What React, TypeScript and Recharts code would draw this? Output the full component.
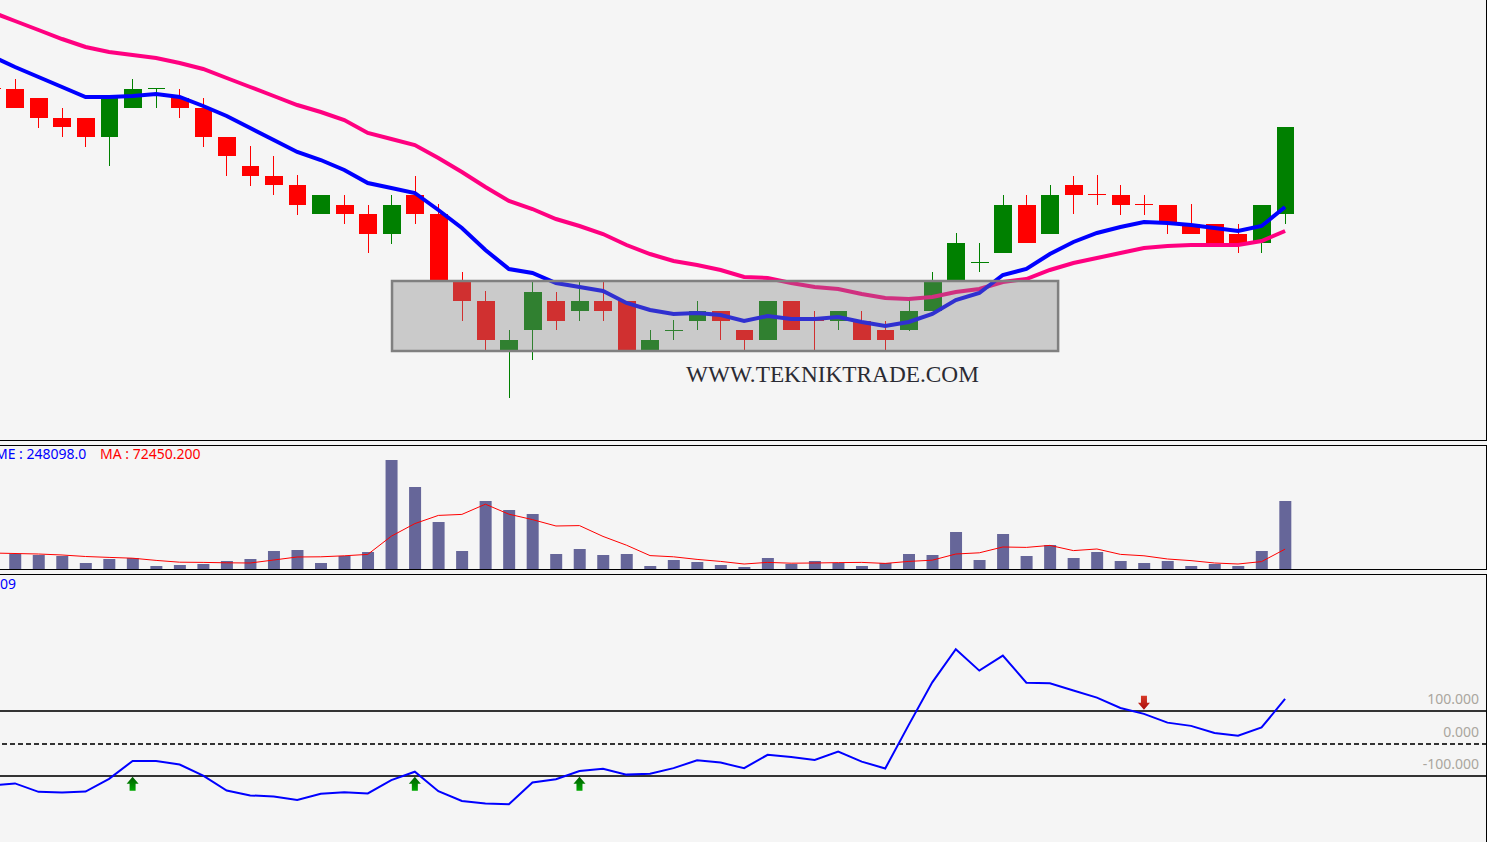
import React from "react";
import {
  ComposedChart,
  Bar,
  Line,
  XAxis,
  YAxis,
  ReferenceArea,
  ReferenceLine,
  ReferenceDot,
} from "recharts";

const W = 1487;
const BG = "#f5f5f5";
const UP = "#008000";
const DOWN = "#ff0000";
const SLOW_MA = "#ff0080";
const FAST_MA = "#0000ff";
const VOLUME = "#666699";

// one bar per session, starting with the one cut off by the left edge
const sessions = Array.from({ length: 56 }, (_, k) => k - 1);

const opens = [352, 351, 342, 322, 322, 303, 332, 352, 342, 332, 303, 274, 264, 255, 226, 235, 226, 206, 245, 226, 158, 139, 90, 110, 139, 129, 139, 139, 90, 110, 119, 129, 110, 100, 139, 120, 119, 119, 110, 110, 129, 159, 178, 187, 235, 206, 255, 246, 245, 236, 235, 216, 216, 206, 197, 226];
const highs = [360, 361, 342, 332, 322, 342, 361, 352, 351, 342, 303, 294, 284, 265, 245, 245, 235, 245, 264, 236, 168, 149, 110, 158, 148, 158, 158, 139, 110, 120, 139, 129, 110, 139, 139, 129, 129, 129, 119, 140, 168, 207, 197, 245, 245, 255, 264, 265, 255, 245, 235, 236, 216, 216, 235, 313];
const lows = [345, 332, 312, 303, 293, 274, 332, 332, 322, 293, 264, 254, 245, 225, 226, 216, 187, 196, 216, 159, 119, 90, 42, 80, 110, 119, 119, 90, 90, 100, 110, 100, 90, 100, 110, 90, 110, 100, 90, 109, 129, 159, 168, 187, 197, 206, 226, 235, 225, 225, 206, 206, 195, 187, 187, 216];
const closes = [351.8, 332, 322, 313, 303, 342, 351, 352.2, 332, 303, 284, 264, 255, 235, 245, 226, 206, 235, 226, 159, 139, 100, 100, 148, 119, 139, 129, 90, 100, 110.2, 129, 119, 100, 139, 110, 119.8, 129, 100, 100, 129, 158, 197, 178.2, 235, 197, 245, 245, 245.8, 235, 235.8, 216, 206, 197, 196, 235, 313];

const slowMa = [428, 419, 410, 401, 393, 388, 385, 382, 377, 371, 362, 353, 344, 335, 328, 320, 307, 301, 295, 282, 268, 253, 239, 231, 221, 214, 206, 195, 186, 179, 175, 170, 163, 162, 157, 153, 151, 146, 142, 141, 143, 148, 151, 158, 161, 170, 177, 182, 187, 192, 194, 195, 195, 195, 199, 209];
const fastMa = [384, 373, 363, 353, 343, 343, 344, 346, 343, 334, 324, 312, 300, 288, 280, 270, 257, 252, 247, 230, 212, 190, 171, 167, 157, 153, 149, 137, 130, 126, 127, 125, 119, 124, 121, 121, 123, 118, 114, 118, 126, 140, 147, 165, 171, 186, 198, 207, 213, 218, 217, 215, 212, 209, 214, 233];

const volumes = [58400, 54700, 51100, 47400, 21900, 36500, 40100, 10900, 14600, 18200, 29200, 36500, 65700, 69300, 21900, 47400, 62000, 397600, 299100, 171500, 65700, 248100, 215200, 200600, 54700, 73000, 51100, 54700, 10900, 32800, 25500, 14600, 7300, 40100, 18200, 29200, 21900, 10900, 21900, 54700, 51100, 135000, 32800, 127700, 47400, 87600, 40100, 62000, 29200, 21900, 29200, 10900, 18200, 10900, 65700, 248098];
const volumeMa = [58400, 56500, 54700, 51100, 45600, 42300, 39400, 31400, 24800, 24100, 22600, 21900, 32800, 43800, 44500, 48200, 53300, 119700, 165600, 195500, 199200, 236400, 199900, 180200, 156900, 158300, 118900, 86800, 48900, 44500, 35000, 27700, 18200, 24100, 21200, 21900, 23300, 24100, 20400, 27700, 32100, 54700, 59100, 80300, 78800, 86100, 67100, 73000, 53300, 48200, 36500, 30600, 21900, 18200, 27000, 72450];

const cci = [-128, -122, -148, -150, -147, -108, -53, -53, -64, -98, -144, -159, -162, -173, -154, -149, -153, -112, -86, -146, -176, -184, -186, -119, -109, -84, -77, -95, -92, -75, -51, -58, -75, -34, -41, -50, -24, -55, -76, 58, 189, 291, 225, 271, 188, 186, 164, 142, 110, 92, 65, 55, 33, 25, 50, 138];

const buySignals = [
  { session: 5, level: -101.5 },
  { session: 17, level: -101.5 },
  { session: 24, level: -101.5 },
];
const sellSignals = [{ session: 48, level: 104.5 }];

const cciLevels = [
  { value: 100, label: "100.000", dashed: false },
  { value: 0, label: "0.000", dashed: true },
  { value: -100, label: "-100.000", dashed: false },
];

const consolidation = { from: 16.03, to: 44.35, low: 89, high: 159 };

const volumeLabel = "ME : 248098.0";
const volumeMaLabel = "MA : 72450.200";
const cciLabel = "09";
const watermark = "WWW.TEKNIKTRADE.COM";

const mainRows = sessions.map((session, k) => ({
  session,
  open: opens[k],
  high: highs[k],
  low: lows[k],
  close: closes[k],
  slow: slowMa[k],
  fast: fastMa[k],
}));
const volumeRows = sessions.map((session, k) => ({
  session,
  volume: volumes[k],
  ma: volumeMa[k],
}));
const cciRows = sessions.map((session, k) => ({ session, cci: cci[k] }));

// the x scale: 23.52 px per session with session 0 centred on x = 15
const xDomain = [-15 / 23.52, (W - 15) / 23.52];

function Candle(props: any) {
  const { x, y, width, height, payload } = props;
  const { open, high, low, close } = payload;
  const perUnit = height / (high - low);
  const yOf = (v: number) => y + (high - v) * perUnit;
  const cx = x + width / 2;
  const color = close >= open ? UP : DOWN;
  const top = Math.round(yOf(Math.max(open, close)));
  const bottom = Math.round(yOf(Math.min(open, close)));
  const left = Math.round(cx - 8.8);
  const right = Math.round(cx + 9);
  return (
    <g shapeRendering="crispEdges">
      <rect x={Math.floor(cx)} y={y} width={1} height={height} fill={color} />
      <rect x={left} y={top} width={right - left} height={Math.max(1, bottom - top)} fill={color} />
    </g>
  );
}

function UpArrow(props: any) {
  const { cx, cy } = props;
  return (
    <path
      d={`M${cx} ${cy}L${cx + 6} ${cy + 7}L${cx + 3} ${cy + 7}L${cx + 3} ${cy + 14}L${cx - 3} ${cy + 14}L${cx - 3} ${cy + 7}L${cx - 6} ${cy + 7}Z`}
      fill="url(#buyFill)"
    />
  );
}

function DownArrow(props: any) {
  const { cx, cy } = props;
  return (
    <path
      d={`M${cx} ${cy}L${cx + 6} ${cy - 7}L${cx + 3} ${cy - 7}L${cx + 3} ${cy - 14}L${cx - 3} ${cy - 14}L${cx - 3} ${cy - 7}L${cx - 6} ${cy - 7}Z`}
      fill="url(#sellFill)"
    />
  );
}

const rule = (left: number, top: number, width: number, height: number) => (
  <div style={{ position: "absolute", left, top, width, height, background: "#000" }} />
);

const legendStyle = (left: number, top: number, color: string): React.CSSProperties => ({
  position: "absolute",
  left,
  top,
  color,
  fontFamily: "'Noto Sans', sans-serif",
  fontSize: 14,
  lineHeight: "18px",
  whiteSpace: "pre",
});

const margin = { top: 0, right: 0, bottom: 0, left: 0 };

export default function App() {
  return (
    <div
      style={{
        position: "absolute",
        left: 0,
        top: 0,
        width: W,
        height: 842,
        background: BG,
        overflow: "hidden",
      }}
    >
      <div style={{ position: "absolute", left: 0, top: 0 }}>
        <ComposedChart width={W} height={440} data={mainRows} margin={margin}>
          <XAxis dataKey="session" type="number" domain={xDomain} allowDataOverflow hide />
          <YAxis type="number" domain={[0, 440]} allowDataOverflow hide />
          <Bar
            dataKey={(d: any) => [d.low, d.high]}
            barSize={18}
            shape={Candle}
            isAnimationActive={false}
          />
          <Line dataKey="slow" stroke={SLOW_MA} strokeWidth={4} dot={false} isAnimationActive={false} />
          <Line dataKey="fast" stroke={FAST_MA} strokeWidth={4} dot={false} isAnimationActive={false} />
          <ReferenceArea
            x1={consolidation.from}
            x2={consolidation.to}
            y1={consolidation.low}
            y2={consolidation.high}
            fill="#808080"
            fillOpacity={0.373}
            stroke="#808080"
            strokeWidth={2.5}
            zIndex={1000}
          />
        </ComposedChart>
      </div>

      <div style={{ position: "absolute", left: 0, top: 446 }}>
        <ComposedChart width={W} height={123} data={volumeRows} margin={margin}>
          <XAxis dataKey="session" type="number" domain={xDomain} allowDataOverflow hide />
          <YAxis type="number" domain={[0, 448704]} allowDataOverflow hide />
          <Bar dataKey="volume" barSize={12} fill={VOLUME} isAnimationActive={false} />
          <Line dataKey="ma" stroke="#ff0000" strokeWidth={1} dot={false} isAnimationActive={false} />
        </ComposedChart>
      </div>

      <div style={{ position: "absolute", left: 0, top: 575 }}>
        <ComposedChart width={W} height={267} data={cciRows} margin={margin}>
          <defs>
            <linearGradient id="buyFill" x1="0" y1="0" x2="0" y2="1">
              <stop offset="0%" stopColor="#005c00" />
              <stop offset="100%" stopColor="#00a800" />
            </linearGradient>
            <linearGradient id="sellFill" x1="0" y1="0" x2="0" y2="1">
              <stop offset="0%" stopColor="#d83a28" />
              <stop offset="100%" stopColor="#a80c0c" />
            </linearGradient>
          </defs>
          <XAxis dataKey="session" type="number" domain={xDomain} allowDataOverflow hide />
          <YAxis type="number" domain={[-302.3, 519.2]} allowDataOverflow hide />
          {cciLevels.map((level) => (
            <ReferenceLine
              key={level.value}
              y={level.value}
              stroke="#333333"
              strokeWidth={2}
              shapeRendering="crispEdges"
              strokeDasharray={level.dashed ? "5 3" : undefined}
              strokeDashoffset={level.dashed ? -2 : undefined}
              label={{
                value: level.label,
                position: "insideBottomRight",
                offset: 8,
                dy: 1,
                fill: "#aaa69e",
                fontSize: 14,
                fontFamily: "'Noto Sans', sans-serif",
              }}
            />
          ))}
          <Line dataKey="cci" stroke={FAST_MA} strokeWidth={2} dot={false} isAnimationActive={false} />
          {buySignals.map((s) => (
            <ReferenceDot key={s.session} x={s.session} y={s.level} shape={UpArrow} />
          ))}
          {sellSignals.map((s) => (
            <ReferenceDot key={s.session} x={s.session} y={s.level} shape={DownArrow} />
          ))}
        </ComposedChart>
      </div>

      {rule(0, 440, W, 1)}
      {rule(0, 445, W, 1)}
      {rule(0, 569, W, 1)}
      {rule(0, 574, W, 1)}
      {rule(1486, 0, 1, 441)}
      {rule(1486, 445, 1, 125)}
      {rule(1486, 574, 1, 268)}

      <div style={legendStyle(-5, 445, "#0000ff")}>{volumeLabel}</div>
      <div style={legendStyle(100, 445, "#ff0000")}>{volumeMaLabel}</div>
      <div style={legendStyle(0, 575, "#0000ff")}>{cciLabel}</div>
      <div
        style={{
          position: "absolute",
          left: 686,
          top: 360,
          color: "#2b2b33",
          fontFamily: "'Liberation Serif', serif",
          fontSize: 23.3,
          lineHeight: "28px",
          whiteSpace: "pre",
        }}
      >
        {watermark}
      </div>
    </div>
  );
}
